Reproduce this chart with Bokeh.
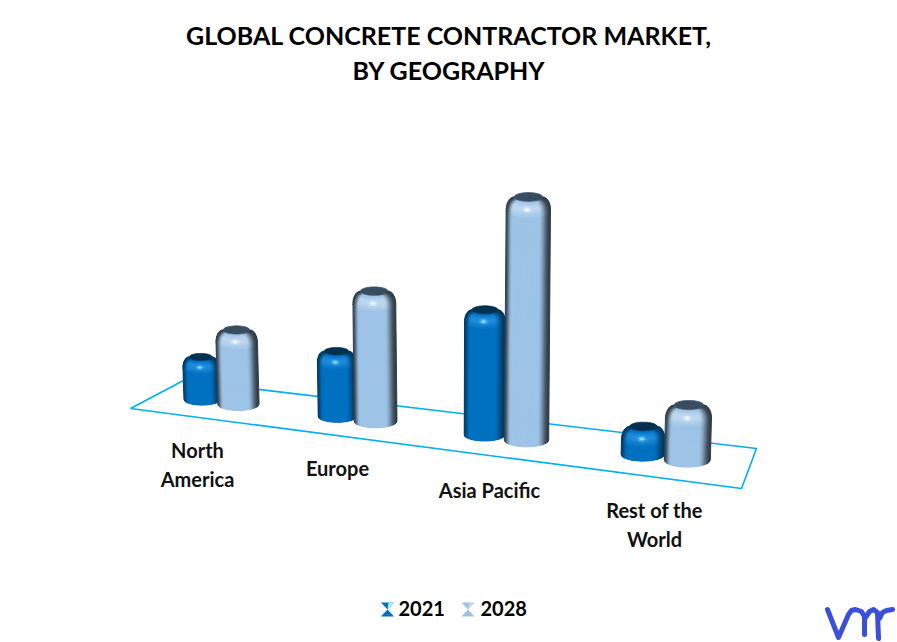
# Global concrete contractor market chart, fake 3D cylinders drawn as small patches

import numpy as np
from bokeh.core.properties import value
from bokeh.embed import file_html
from bokeh.models import ColumnDataSource, Range1d
from bokeh.plotting import figure
from bokeh.resources import INLINE

# data (no axis in the picture, so values are relative, Asia Pacific 2028 = 100)
categories = ["North\nAmerica", "Europe", "Asia Pacific", "Rest of the\nWorld"]
values_2021 = [17.5, 26.8, 51.4, 11.5]
values_2028 = [30.5, 53.5, 100.0, 22.6]
series_names = ["2021", "2028"]
title_lines = ["GLOBAL CONCRETE CONTRACTOR MARKET,", "BY GEOGRAPHY"]

# style
PX_PER_UNIT = 2.43
FLOOR_COLOR = "#00B0F0"
FONT = value("Lato")
STYLES = {
    "2021": dict(base=(0, 112, 192), dark=(0, 58, 100), cap=(0, 49, 80), light=(30, 140, 220), spot=(150, 235, 255),
                 r0=18, r1=22),
    "2028": dict(base=(157, 195, 230), dark=(50, 62, 74), cap=(58, 77, 96), light=(190, 215, 240), spot=(250, 253, 255),
                 r0=20.5, r1=23),
}

# floor plane, u runs over the categories and v goes to the back
floor_uv = [(0, 0), (4, 0), (4, 1), (0, 1)]
floor_px = [(130, 408), (741, 488), (756, 448), (183, 380)]
# where each bar stands inside its category slot
offset_2021 = [-0.145, -0.12, -0.105, -0.115]
offset_2028 = [0.14, 0.153, 0.167, 0.147]

A = []
b = []
for (u, v), (x, y) in zip(floor_uv, floor_px):
    A.append([u, v, 1, 0, 0, 0, -u * x, -v * x])
    A.append([0, 0, 0, u, v, 1, -u * y, -v * y])
    b += [x, y]
H = np.append(np.linalg.solve(np.array(A, float), np.array(b, float)), 1).reshape(3, 3)


def project(u, v):
    w = H @ np.array([u, v, 1.0])
    return w[0] / w[2], w[1] / w[2]


def smooth(a, b, x):
    t = np.clip((x - a) / (b - a), 0, 1)
    return t * t * (3 - 2 * t)


def mix(c1, c2, t):
    return tuple(c1[i] + (c2[i] - c1[i]) * t for i in range(3))


def to_hex(c):
    return "#%02x%02x%02x" % tuple(int(round(max(0, min(255, k)))) for k in c)


def surface_color(style, t, angle):
    # angle = 0 on the body, goes to 90 at the flat top
    side = smooth(-1.0, -0.7, t) * smooth(1.0, 0.5, t)
    c = style["base"]
    band = np.exp(-((angle - 42) / 30.0) ** 2) if angle > 0 else 0
    c = mix(c, style["light"], band)
    c = mix(style["dark"], c, side)
    spot = np.exp(-((t + 0.05) / 0.16) ** 2) * np.exp(-((angle - 38) / 10.0) ** 2) if angle > 0 else 0
    return to_hex(mix(c, style["spot"], spot))


def cylinder(fig, u, v, val, name):
    style = STYLES[name]
    cx, cy = project(u, v)
    R = style["r0"] + (cx - 201) / 487.0 * (style["r1"] - style["r0"])
    e = R * 0.31
    H_bar = val * PX_PER_UNIT
    r = min(R * 0.6, H_bar * 0.5)
    lean = (cx - 460) * 0.00012

    # equal steps across the screen width, not around the circle, so the strips stay thin
    phis = np.arcsin(np.linspace(-1, 1, 49))
    angles = np.linspace(0, 90, 13)
    # profile: (radius factor, height, angle)
    profile = [(1.0, 0.0, 0.0)]
    for a in angles:
        rad = np.radians(a)
        profile.append((1 - 0.36 * (1 - np.cos(rad)), H_bar - r + r * np.sin(rad), a))

    def pt(rho, h, phi):
        return (cx + lean * h + rho * R * np.sin(phi), cy - h + e * rho * np.cos(phi))

    xs, ys, colors = [], [], []
    for k in range(len(profile) - 1):
        p0, p1 = profile[k], profile[k + 1]
        for j in range(len(phis) - 1):
            f0, f1 = phis[j], phis[j + 1]
            corners = [pt(p0[0], p0[1], f0), pt(p0[0], p0[1], f1), pt(p1[0], p1[1], f1), pt(p1[0], p1[1], f0)]
            xs.append([q[0] for q in corners])
            ys.append([q[1] for q in corners])
            colors.append(surface_color(style, np.sin((f0 + f1) / 2), p1[2] if k > 0 else 0))
    src = ColumnDataSource(dict(xs=xs, ys=ys, color=colors))
    fig.patches("xs", "ys", source=src, fill_color="color", line_color="color", line_width=1)

    # flat dark top
    rho, h, _ = profile[-1]
    ang = np.linspace(0, 2 * np.pi, 40)
    fig.patch(cx + lean * h + rho * R * np.sin(ang), cy - h + e * rho * np.cos(ang),
              fill_color=to_hex(style["cap"]), line_color=to_hex(style["cap"]), line_width=0.7)


p = figure(width=897, height=642, output_backend="svg", toolbar_location=None,
           x_range=Range1d(0, 897), y_range=Range1d(642, 0),
           x_axis_location=None, y_axis_location=None, min_border=0,
           outline_line_color=None, background_fill_color="white")
p.grid.visible = False

# floor
fx = [q[0] for q in floor_px] + [floor_px[0][0]]
fy = [q[1] for q in floor_px] + [floor_px[0][1]]
p.line(fx, fy, line_color=FLOOR_COLOR, line_width=1.6)

# bars, 2028 sits in front of 2021
for i in range(len(categories)):
    cylinder(p, i + 0.5 + offset_2021[i], 0.5, values_2021[i], "2021")
    cylinder(p, i + 0.5 + offset_2028[i], 0.5, values_2028[i], "2028")

# title
p.text([448.5, 448.5], [34, 69], text=title_lines, text_font=FONT, text_font_style="bold",
       text_font_size="25px", text_align="center", text_baseline="middle", text_color="#000000")

# category labels
label_x = [197, 337, 489, 654]
label_y = [464, 467, 489, 524]
p.text(label_x, label_y, text=categories, text_font=FONT, text_font_style="bold", text_font_size="20px",
       text_align="center", text_baseline="middle", text_color="#111111", text_line_height=1.17)

# legend
for name, x0, xt in zip(series_names, [387, 467.5], [398, 480]):
    st = STYLES[name]
    p.patch([x0 - 6.5, x0 + 6.5, x0, ], [602, 602, 609], fill_color=to_hex(st["base"]), line_color=None)
    p.patch([x0, x0 + 6.5, x0 + 1], [609, 602, 602], fill_color="#a8ecff" if name == "2021" else "#c9d9ea", line_color=None)
    p.patch([x0 - 6.5, x0 + 6.5, x0], [616, 616, 609], fill_color=to_hex(st["base"]), line_color=None)
    p.text([xt], [608], text=[name], text_font=FONT, text_font_style="bold", text_font_size="20px",
           text_baseline="middle", text_color="#000000")

# logo
p.line([827, 838, 848, 851, 855, 861, 864, 864], [609, 637, 614, 610, 609, 611, 616, 634],
       line_color="#3B4FD8", line_width=5, line_cap="round", line_join="round")
p.line([865, 869, 873, 877, 878], [617, 611, 609, 612, 638], line_color="#3B4FD8", line_width=5,
       line_cap="round", line_join="round")
p.line([879, 882, 886, 892], [618, 612, 610, 609], line_color="#3B4FD8", line_width=5,
       line_cap="round", line_join="round")

open("out.html", "w").write(file_html(p, INLINE))
